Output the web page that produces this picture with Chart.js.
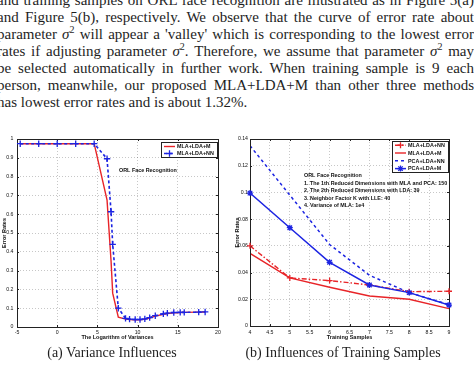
<!DOCTYPE html>
<html>
<head>
<meta charset="utf-8">
<script src="https://cdn.jsdelivr.net/npm/chart.js@4.4.0/dist/chart.umd.min.js"></script>
<style>
  html, body { margin: 0; padding: 0; background: #fff; }
  body { width: 474px; height: 372px; position: relative; overflow: hidden;
         font-family: "Liberation Serif", "Times New Roman", serif; color: #1e1e1e; }
  #para { position: absolute; left: -3px; top: -8px; width: 477px; font-size: 15px; line-height: 17px; }
  #para div { text-align: justify; text-align-last: justify; }
  #para div.last { text-align-last: left; }
  #para sup { font-size: 10px; line-height: 0; }
  .cap { position: absolute; top: 345px; font-size: 14px; white-space: nowrap; transform: translateX(-50%); }
  canvas { position: absolute; }
</style>
</head>
<body>
<div id="para">
  <div>and training samples on ORL face recognition are illustrated as in Figure 5(a)</div>
  <div>and Figure 5(b), respectively. We observe that the curve of error rate about</div>
  <div>parameter <i>σ</i><sup>2</sup> will appear a 'valley' which is corresponding to the lowest error</div>
  <div>rates if adjusting parameter <i>σ</i><sup>2</sup>. Therefore, we assume that parameter <i>σ</i><sup>2</sup> may</div>
  <div>be selected automatically in further work. When training sample is 9 each</div>
  <div>person, meanwhile, our proposed MLA+LDA+M than other three methods</div>
  <div class="last">has lowest error rates and is about 1.32%.</div>
</div>

<canvas id="chartA" width="234" height="230" style="left:0px;top:120px"></canvas>
<canvas id="chartB" width="240" height="230" style="left:234px;top:120px"></canvas>
<div class="cap" style="left:112px">(a) Variance Influences</div>
<div class="cap" style="left:343px">(b) Influences of Training Samples</div>

<script>
// ---- data: (a) variance influences ----
const logVar = [-4.6, -2.3, 0, 2.3, 4.6, 6.2, 6.7, 6.9, 7.6, 8.5, 9.0, 9.7, 10.3, 10.9, 11.5, 12.2, 13.2, 13.7, 14.5, 15.3, 15.8, 17.6, 18.4];
const errMlaM  = [0.975, 0.975, 0.975, 0.975, 0.975, 0.675, 0.35, 0.18, 0.052, 0.042, 0.040, 0.038, 0.038, 0.042, 0.048, 0.058, 0.068, 0.072, 0.075, 0.077, 0.078, 0.079, 0.080];
const errMlaNN = [0.975, 0.975, 0.975, 0.975, 0.975, 0.895, 0.613, 0.44, 0.10, 0.046, 0.042, 0.040, 0.040, 0.043, 0.050, 0.060, 0.070, 0.074, 0.077, 0.078, 0.078, 0.079, 0.080];

// ---- data: (b) training samples ----
const samples = [4, 5, 6, 7, 8, 9];
const mlaNN = [0.060, 0.036, 0.034, 0.0307, 0.0257, 0.026];
const mlaM  = [0.0544, 0.036, 0.029, 0.0225, 0.020, 0.013];
const pcaNN = [0.135, 0.098, 0.061, 0.038, 0.025, 0.016];
const pcaM  = [0.0995, 0.0736, 0.0477, 0.0307, 0.025, 0.0157];

const notesA = ['ORL Face Recognition'];
const notesB = ['ORL Face Recognition',
  '1. The 1th Reduced Dimensions with MLA and PCA: 150',
  '2. The 2th Reduced Dimensions with LDA: 39',
  '3. Neighbor Factor K with LLE: 40',
  '4. Variance of MLA: 1e4'];

const RED = 'rgb(232,36,40)';
const BLUE = 'rgb(28,36,226)';
const pts = (xs, ys) => xs.map((x, i) => ({ x: x, y: ys[i] }));
const smallFont = { family: 'Arial, "Liberation Sans", sans-serif', size: 5.2 };
const boldFont = { family: 'Arial, "Liberation Sans", sans-serif', size: 5.5, weight: 'bold' };
const plain = v => String(+Number(v).toFixed(3));   // 1 not 1.0, 4 not 4.0

function marker(ctx, style, x, y, r) {
  ctx.beginPath();
  ctx.moveTo(x - r, y); ctx.lineTo(x + r, y);
  ctx.moveTo(x, y - r); ctx.lineTo(x, y + r);
  if (style === 'star') {
    const d = r * 0.75;
    ctx.moveTo(x - d, y - d); ctx.lineTo(x + d, y + d);
    ctx.moveTo(x - d, y + d); ctx.lineTo(x + d, y - d);
  }
  ctx.stroke();
}

// box round the plot, with small inward ticks like matlab
const frame = {
  id: 'frame',
  afterDatasetsDraw(chart) {
    const { ctx, chartArea: a, scales } = chart;
    ctx.save();
    ctx.strokeStyle = '#222';
    ctx.lineWidth = 1;
    ctx.setLineDash([]);
    ctx.strokeRect(Math.round(a.left) + 0.5, Math.round(a.top) + 0.5, Math.round(a.width), Math.round(a.height));
    ctx.beginPath();
    scales.x.ticks.forEach(t => {
      const px = Math.round(scales.x.getPixelForValue(t.value)) + 0.5;
      ctx.moveTo(px, a.bottom); ctx.lineTo(px, a.bottom - 2);
      ctx.moveTo(px, a.top); ctx.lineTo(px, a.top + 2);
    });
    scales.y.ticks.forEach(t => {
      const py = Math.round(scales.y.getPixelForValue(t.value)) + 0.5;
      ctx.moveTo(a.left, py); ctx.lineTo(a.left + 2, py);
      ctx.moveTo(a.right, py); ctx.lineTo(a.right - 2, py);
    });
    ctx.stroke();
    ctx.restore();
  }
};

// matlab-like + and * markers (chart.js own points are switched off)
const marks = {
  id: 'marks',
  afterDatasetsDraw(chart) {
    const ctx = chart.ctx;
    ctx.save();
    chart.data.datasets.forEach((ds, di) => {
      if (!ds.mark) return;
      const meta = chart.getDatasetMeta(di);
      ctx.strokeStyle = ds.borderColor;
      ctx.lineWidth = 1.3;
      ctx.setLineDash([]);
      meta.data.forEach(p => marker(ctx, ds.mark, p.x, p.y, ds.markSize));
    });
    ctx.restore();
  }
};

// legend drawn inside the upper right corner, plus the note text
const inside = {
  id: 'inside',
  afterDraw(chart, args, o) {
    const { ctx, chartArea: a } = chart;
    ctx.save();
    ctx.fillStyle = '#111';
    ctx.font = 'bold 5.4px Arial, "Liberation Sans", sans-serif';
    ctx.textBaseline = 'middle';
    o.notes.forEach((s, i) => ctx.fillText(s, a.left + o.noteX, a.top + o.noteY + i * o.noteStep));
    const bx = a.right - o.boxW, by = a.top + o.boxY;
    ctx.fillStyle = '#fff';
    ctx.fillRect(bx, by, o.boxW, o.boxH);
    ctx.strokeStyle = '#222';
    ctx.lineWidth = 1;
    ctx.strokeRect(bx + 0.5, by + 0.5, o.boxW - 1, o.boxH - 1);
    chart.data.datasets.forEach((ds, i) => {
      const y = by + o.row0 + i * o.rowH;
      ctx.strokeStyle = ds.borderColor;
      ctx.lineWidth = ds.borderWidth;
      ctx.setLineDash(ds.borderDash || []);
      ctx.beginPath();
      ctx.moveTo(bx + 3, y); ctx.lineTo(bx + 14, y);
      ctx.stroke();
      ctx.setLineDash([]);
      ctx.lineWidth = 1.3;
      if (ds.mark) marker(ctx, ds.mark, bx + 8.5, y, ds.markSize);
      ctx.fillStyle = '#111';
      ctx.fillText(ds.label, bx + 16, y + 0.3);
    });
    ctx.restore();
  }
};

function axes(xmin, xmax, xstep, ymin, ymax, ystep, xTitle, yW, xH, yTitlePad, xTickPad, yTickPad) {
  const gridCol = 'rgba(0,0,0,0.28)';
  return {
    x: {
      type: 'linear', min: xmin, max: xmax,
      ticks: { stepSize: xstep, autoSkip: false, font: smallFont, color: '#111', padding: xTickPad,
               maxRotation: 0, callback: plain },
      grid: { color: gridCol, lineWidth: 0.8, tickLength: 0, drawTicks: false },
      border: { display: false, dash: [1, 2] },
      title: { display: true, text: xTitle, font: boldFont, color: '#111', padding: { top: 0, bottom: 9 } },
      afterFit(s) { s.height = xH; }
    },
    y: {
      min: ymin, max: ymax,
      ticks: { stepSize: ystep, font: smallFont, color: '#111', padding: yTickPad, callback: plain },
      grid: { color: gridCol, lineWidth: 0.8, tickLength: 0, drawTicks: false },
      border: { display: false, dash: [1, 2] },
      title: { display: true, text: 'Error Rates', font: boldFont, color: '#111', padding: { top: yTitlePad, bottom: 0 } },
      afterFit(s) { s.width = yW; }
    }
  };
}

const common = {
  responsive: false,
  animation: false,
  devicePixelRatio: 1,
  elements: { line: { tension: 0 }, point: { radius: 0, hoverRadius: 0 } },
  plugins: { legend: { display: false }, tooltip: { enabled: false } }
};

new Chart(document.getElementById('chartA'), {
  type: 'line',
  data: {
    datasets: [
      { label: 'MLA+LDA+M', data: pts(logVar, errMlaM), borderColor: RED, borderWidth: 1.4, order: 1 },
      { label: 'MLA+LDA+NN', data: pts(logVar, errMlaNN), borderColor: BLUE, borderWidth: 1.6,
        borderDash: [3, 2.5], mark: 'cross', markSize: 3.2, order: 0 }
    ]
  },
  options: Object.assign({}, common, {
    layout: { padding: { top: 19, right: 16, left: 0, bottom: 0 } },
    scales: axes(-5, 20, 5, 0, 1, 0.1, 'The Logarithm of Variances', 17, 23, 1.2, 2, 3.5),
    plugins: Object.assign({}, common.plugins, {
      inside: { notes: notesA, noteX: 102, noteY: 32, noteStep: 7.5,
                boxW: 57, boxH: 16, boxY: 3, row0: 4.5, rowH: 7 }
    })
  }),
  plugins: [frame, marks, inside]
});

new Chart(document.getElementById('chartB'), {
  type: 'line',
  data: {
    datasets: [
      { label: 'MLA+LDA+NN', data: pts(samples, mlaNN), borderColor: RED, borderWidth: 1.4,
        borderDash: [5, 2, 1.5, 2], mark: 'cross', markSize: 3, order: 1 },
      { label: 'MLA+LDA+M', data: pts(samples, mlaM), borderColor: RED, borderWidth: 1.4, order: 2 },
      { label: 'PCA+LDA+NN', data: pts(samples, pcaNN), borderColor: BLUE, borderWidth: 1.5,
        borderDash: [3, 3], order: 3 },
      { label: 'PCA+LDA+M', data: pts(samples, pcaM), borderColor: BLUE, borderWidth: 1.5,
        mark: 'star', markSize: 3, order: 0 }
    ]
  },
  options: Object.assign({}, common, {
    layout: { padding: { top: 19, right: 25, left: 0, bottom: 0 } },
    scales: axes(4, 9, 0.5, 0, 0.14, 0.02, 'Training Samples', 16, 24, 0, 3.5, 2),
    plugins: Object.assign({}, common.plugins, {
      inside: { notes: notesB, noteX: 54, noteY: 37, noteStep: 7.5,
                boxW: 57, boxH: 32, boxY: 2, row0: 4.2, rowH: 7.8 }
    })
  }),
  plugins: [frame, marks, inside]
});
</script>
</body>
</html>
